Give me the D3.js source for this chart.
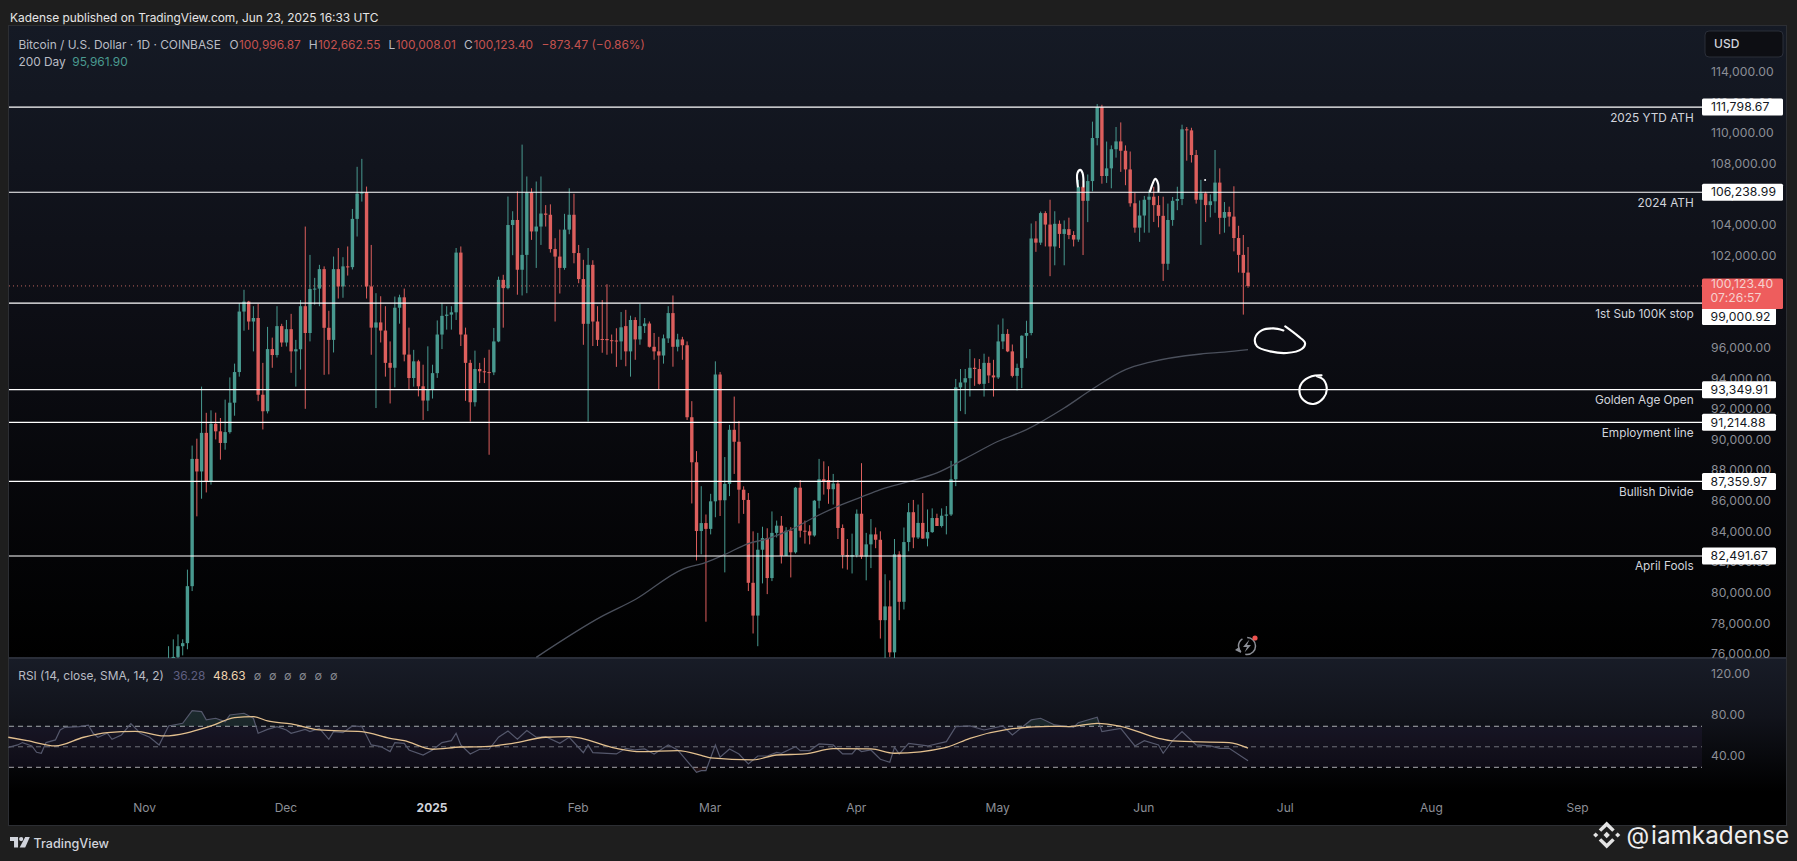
<!DOCTYPE html>
<html>
<head>
<meta charset="utf-8">
<title>BTCUSD</title>
<script src="https://cdn.jsdelivr.net/npm/d3@7"></script>
<style>
  html, body { margin: 0; padding: 0; background: #1e1e1e; overflow: hidden; }
  svg { display: block; }
  text { font-family: Inter, "Liberation Sans", sans-serif; }
  .tick text { font-family: Inter, "Liberation Sans", sans-serif; }
</style>
</head>
<body>
<svg id="chart" width="1797" height="861"></svg>
<script>
// daily candles, first one is 2024-11-06, one value per day up to 2025-06-23
var FIRST_CANDLE = '2024-11-06';

var opens = [
  69350,75600,75900,76600,76800,80520,88830,88010,90530,87370,91120,90630,89870,90580,92500,94500,98450,99100,97800,98030,93020,91940,96000,95610,97500,
  96430,97300,95850,95990,98800,97050,99920,99950,101220,97390,96600,101220,100090,101400,101350,104500,106150,106240,100090,97400,97740,97210,95100,94780,98700,99380,95640,94110,95200,93570,92640,
  93350,94430,96950,98170,98250,98400,102300,96950,95100,92530,94700,94550,94500,94480,96500,100520,99980,104100,104430,101180,102150,106220,103680,104000,104850,104770,102530,102040,101300,103800,104770,
  102270,100570,97650,101500,97800,96660,96660,96580,96560,96500,97500,95850,97900,96630,97500,97670,96150,95850,95580,96700,98350,96150,96630,96250,91550,88610,84120,84640,
  84260,86060,94340,86130,87200,90730,89950,86820,86150,80740,78600,82900,83660,81050,84000,84470,82500,84140,82730,86950,84140,84100,83830,86100,87500,87450,86850,87220,84320,82550,82450,
  82550,85250,82450,83250,83900,83550,78300,79200,76200,82600,79500,83400,85350,83700,84650,83630,84050,84970,84450,85120,85200,87500,93500,93820,94100,94780,94700,93730,95100,94280,
  94150,96500,96990,95850,94250,94770,96870,97050,103220,102950,104880,104130,102700,104180,103520,103830,103450,103150,106600,105680,106970,109780,111800,107300,107800,109050,109560,108950,107730,105520,103930,
  104720,105750,105950,105400,104700,101570,104430,105680,105800,110350,110280,108670,105750,106170,105400,105650,106870,104570,104950,104650,103250,102150,100996.87
];
var highs = [
  76600,77050,77370,77050,81600,89700,90150,93550,91840,92000,91850,91500,92700,94150,95050,99000,99870,99150,98800,98950,95100,97450,96750,98800,97650,
  97900,98300,96600,99200,104000,102150,100650,101500,101400,98500,102040,102600,102000,102700,105150,107900,108420,106610,102800,99650,99450,98800,96500,99430,99550,99950,97400,95950,95300,94980,96180,
  94980,97870,98990,98800,98800,102600,102700,97400,95300,95900,95100,95430,95960,97380,100730,100850,105960,105000,106300,109350,107270,106500,106940,107270,105400,105450,103240,103800,104830,106500,106140,
  102800,101830,102600,101800,98800,99200,100230,96950,97360,98420,98560,98180,98080,98950,98030,97800,97050,96800,96950,98800,99500,97000,96800,96500,92600,89340,87050,85200,
  86550,95200,94500,88950,91050,92900,91300,87040,86600,84100,84000,84400,84300,85400,84800,85100,84370,84370,87000,87450,84800,84500,86150,88830,88670,88350,87850,87450,84550,83600,83950,
  85530,88550,84000,84900,84350,84100,81300,80900,83600,82800,84350,85950,86150,85850,86600,85530,85600,85250,85600,85750,88700,94050,94700,94700,96000,95400,95350,95700,95500,95300,
  97600,98000,97300,96300,95050,96900,97850,104200,104350,104980,105000,105750,105000,104400,104400,104580,103700,107050,107000,107400,110850,112000,111950,109550,109300,110500,110800,109300,108900,106200,105700,
  106000,106400,106600,106000,105950,105500,105930,106600,110650,110500,110450,109000,107050,106270,106100,109000,107800,105600,105300,106630,104050,103450,102662.55
];
var lows = [
  68900,74700,75600,76000,76400,80200,85080,86230,86640,87150,90100,88780,89430,90480,91650,94200,97200,97260,95850,92600,90750,91800,94780,95450,96150,
  96170,94450,93550,94660,92100,96500,98900,98800,94320,94350,95780,99300,99350,100800,101200,103350,105630,99300,95630,92150,96430,94200,92450,93500,97660,95200,93350,93550,92910,91370,91950,
  92770,94120,96000,97270,97270,97900,96200,92620,91270,92250,93780,93780,89100,94300,96450,97400,99900,102130,99550,99500,99650,103130,101300,102800,104000,102300,97800,99630,101180,103500,101600,
  100300,96280,91270,96200,96200,95760,95630,95710,94840,95300,94880,94200,95300,96280,97050,96100,95300,93340,95050,96400,94850,95850,95300,91370,85920,82200,82600,78200,
  83900,85020,85100,81420,86400,87850,84620,85240,80200,77430,76600,80700,80000,80850,83700,82000,82500,81090,82650,83700,83300,83250,83750,85600,86500,85900,85850,83600,81680,81600,81350,
  82400,82300,80900,81700,83000,77100,74500,75900,74600,78300,79000,82800,83000,83600,83600,83120,84000,84450,84350,83900,85100,87050,91950,91750,92900,93600,93680,92900,93780,92900,
  94050,96000,95800,94150,93300,93450,95400,96900,102350,102800,102700,100760,101470,102600,101470,103180,102700,103000,102140,104290,106300,109300,106800,106850,106500,108500,107570,106700,105300,103600,103000,
  103600,103600,104300,103950,100450,101170,104050,105070,105400,108300,108180,105500,102800,104300,104600,104900,103500,103600,104000,102380,101000,98250,100008.01
];
var closes = [
  75600,75900,76600,76800,80520,88830,88010,90530,87370,91120,90630,89870,90580,92500,94500,98450,99100,97800,98030,93020,91940,96000,95610,97500,96430,
  97300,95850,95990,98800,97050,99920,99950,101220,97390,96600,101220,100090,101400,101350,104500,106150,106240,100090,97400,97740,97210,95100,94780,98700,99380,95640,94110,95200,93570,92640,93350,
  94430,96950,98170,98250,98400,102300,96950,95100,92530,94700,94550,94500,94480,96500,100520,99980,104100,104430,101180,102150,106220,103680,104000,104850,104770,102530,102040,101300,103800,104770,102270,
  100570,97650,101500,97800,96600,96600,96580,96560,96500,97420,95850,97900,96630,97500,97670,96150,95850,95580,96700,98350,96150,96630,96250,91550,88610,84120,84640,84260,
  86060,94340,86130,87200,90730,89950,86820,86150,80740,78600,82900,83660,81050,84000,84470,82500,84140,82730,86950,84140,84100,83830,86100,87500,87350,86850,87220,84320,82550,82450,82550,
  85250,82450,83250,83900,83550,78300,79200,76200,82600,79500,83400,85350,83700,84650,83630,84050,84970,84450,85120,85200,87500,93500,93820,94100,94780,94700,93730,95100,94280,94150,
  96500,96990,95850,94250,94770,96870,97050,103220,102950,104880,104130,102700,104180,103520,103830,103450,103150,106600,105680,106970,109780,111800,107300,107800,109050,109560,108950,107730,105520,103930,104720,
  105750,105950,105400,104700,101570,104430,105680,105800,110350,110280,108670,105750,106170,105400,105650,106870,104570,104950,104650,103250,102150,100980,100123.40
];

// 200 day average, read at turning points
var smaDates = ['2025-01-23','2025-02-06','2025-02-13','2025-02-23','2025-02-28','2025-03-04','2025-03-09','2025-03-13','2025-03-18','2025-03-23','2025-03-28','2025-04-02','2025-04-06','2025-04-13','2025-04-18','2025-04-24','2025-05-01','2025-05-07','2025-05-15','2025-05-21','2025-05-28','2025-06-02','2025-06-13','2025-06-18','2025-06-23'];
var smaValues = [75870,78560,79650,81620,82080,82590,83300,83610,84210,85020,85740,86350,86830,87430,87920,88850,89980,90740,92150,93390,94660,95130,95680,95800,95961.9];

// horizontal levels
var levelNames = ['2025 YTD ATH','2024 ATH','1st Sub 100K stop','Golden Age Open','Employment line','Bullish Divide','April Fools'];
var levelValues = [111798.67,106238.99,99000.92,93349.91,91214.88,87359.97,82491.67];
var levelLabelShift = [0,0,13.5,0,0,0,0]; // 99,000.92 tag gets pushed down by the red price tag

var priceTicks = d3.range(76000, 114001, 2000);
var rsiTicks = [40,80,120];
var monthDates = ['2024-11-01','2024-12-01','2025-01-01','2025-02-01','2025-03-01','2025-04-01','2025-05-01','2025-06-01','2025-07-01','2025-08-01','2025-09-01'];
var monthNames = ['Nov','Dec','2025','Feb','Mar','Apr','May','Jun','Jul','Aug','Sep'];

// RSI
var rsiDates = ['2024-10-03','2024-10-05','2024-10-06','2024-10-08','2024-10-09','2024-10-10','2024-10-11','2024-10-13','2024-10-14','2024-10-15','2024-10-18','2024-10-20','2024-10-21','2024-10-22','2024-10-24','2024-10-25','2024-10-27','2024-10-29','2024-10-31','2024-11-02','2024-11-04','2024-11-06','2024-11-09','2024-11-11','2024-11-13','2024-11-14','2024-11-16','2024-11-18','2024-11-19','2024-11-22','2024-11-24','2024-11-25','2024-11-27','2024-11-29','2024-12-01','2024-12-02','2024-12-05','2024-12-06','2024-12-08','2024-12-10','2024-12-11','2024-12-13','2024-12-15','2024-12-17','2024-12-19','2024-12-21','2024-12-23','2024-12-24','2024-12-26','2024-12-27','2024-12-30','2025-01-01','2025-01-03','2025-01-05','2025-01-06','2025-01-07','2025-01-09','2025-01-11','2025-01-13','2025-01-15','2025-01-17','2025-01-19','2025-01-21','2025-01-23','2025-01-25','2025-01-28','2025-01-30','2025-02-02','2025-02-03','2025-02-04','2025-02-09','2025-02-11','2025-02-13','2025-02-15','2025-02-17','2025-02-20','2025-02-22','2025-02-25','2025-02-26','2025-02-27','2025-02-28','2025-03-02','2025-03-03','2025-03-05','2025-03-07','2025-03-09','2025-03-11','2025-03-13','2025-03-15','2025-03-16','2025-03-19','2025-03-20','2025-03-22','2025-03-24','2025-03-27','2025-03-29','2025-03-31','2025-04-01','2025-04-02','2025-04-04','2025-04-06','2025-04-08','2025-04-09','2025-04-10','2025-04-12','2025-04-16','2025-04-20','2025-04-22','2025-04-25','2025-04-28','2025-05-02','2025-05-04','2025-05-08','2025-05-10','2025-05-13','2025-05-17','2025-05-18','2025-05-22','2025-05-23','2025-05-27','2025-05-30','2025-06-01','2025-06-04','2025-06-05','2025-06-07','2025-06-09','2025-06-12','2025-06-15','2025-06-17','2025-06-19','2025-06-23'];
var rsiValues = [49.5,51.8,54.1,50.8,44.6,43.7,54.1,56.7,66.4,69,69.7,71,63.2,59.3,63.2,57.3,61.5,72.6,63.2,59.3,51.8,70.3,72.9,85.3,84.3,76.2,77.8,74.5,81,82.7,77.8,63.2,67,69.7,66.4,63.2,67,64.8,68,57.3,64.8,63.8,70.3,69.7,51.8,50.2,45.3,54.1,53.4,46.9,42,46.9,54.1,56,63.2,51.8,43,47.6,47.6,59.3,65.4,57.3,65.8,59.3,59.9,53.4,59.3,44.3,51.8,44.3,43,48.5,46.9,47.9,43,51.8,46.9,30.7,25.1,26.8,26.8,51.8,39.8,47.9,43,33.3,41,41,44.6,43.7,50.2,46.3,46.3,52.8,51.8,43,43,48.5,45.3,46.9,37.8,34.9,49.5,43,53.4,50.8,55,69.7,70.3,66.4,70.3,61.5,76.2,77.8,71.3,69,73.5,78.8,64.8,68,50.8,56,51.8,43.7,56,64.8,51.8,50.8,48.5,48.5,36.28];

var rsiSmaDates = ['2024-10-03','2024-10-07','2024-10-13','2024-10-19','2024-10-24','2024-10-30','2024-11-05','2024-11-15','2024-11-20','2024-11-24','2024-11-27','2024-12-02','2024-12-08','2024-12-17','2024-12-23','2024-12-26','2025-01-01','2025-01-07','2025-01-12','2025-01-18','2025-01-25','2025-01-30','2025-02-09','2025-02-14','2025-02-22','2025-02-27','2025-03-01','2025-03-10','2025-03-15','2025-03-21','2025-03-27','2025-04-04','2025-04-09','2025-04-20','2025-04-25','2025-05-03','2025-05-12','2025-05-16','2025-05-22','2025-05-27','2025-06-04','2025-06-07','2025-06-19','2025-06-23'];
var rsiSmaValues = [59.3,56,50.8,59.3,63.8,65.1,60.6,70.3,78.4,79.4,75.2,72.3,66.4,64.8,58.3,56,47.6,49.8,50.2,53.4,59.3,59.9,48.5,45.3,46.3,41.7,39.1,37.2,42,43,48.2,47.9,43.7,49.5,58.3,67,70,69.7,72.9,70,58.3,55.7,54,48.63];

// hand drawn marks on the chart, in days after 2024-11-01 and price
var scribbles = [
  { days: [197.9,197.8,198.4,198.9,199.1], prices: [106612,107482,107699,107482,106612] },
  { days: [213.2,213.8,214.3,214.9,215], prices: [106286,106830,107112,106830,106286] },
  { days: [241.5,239.4,236.9,235.5,235.9,238.7,242.2,245.4,246.1,244.7,241.9], prices: [97220,97351,97220,96720,96177,95851,95742,96003,96395,96829,97482] },
  { days: [249.6,247.5,245.4,244.9,245.8,247.9,250,250.7,250,248.6], prices: [94286,94221,93786,93242,92655,92416,92807,93351,94003,94221] }
];

var LEFT = 9, RIGHT = 1786, PLOT_RIGHT = 1702, TOP = 26, PANE_SPLIT = 658, BOTTOM = 825;
var UP = '#48998f', DOWN = '#dd5f5d', MUTED = '#8b8e96', LIGHT = '#d1d4dc';
var DAY = 86400000;

function dayOf(s) {
  return (Date.parse(s) - Date.parse('2024-11-01')) / DAY;
}

var svg = d3.select('#chart');
var defs = svg.append('defs');

var x = d3.scaleLinear().domain([0, 304]).range([145, 1578]);
var y = d3.scaleLinear().domain([76000, 114000]).range([655.4, 73.4]);
var yRsi = d3.scaleLinear().domain([30, 120]).range([767.3, 675]);

function gradient(id, stops) {
  var g = defs.append('linearGradient').attr('id', id).attr('x1', 0).attr('x2', 0).attr('y1', 0).attr('y2', 1);
  stops.forEach(function(s) {
    g.append('stop').attr('offset', s[0]).attr('stop-color', s[1]);
  });
}
gradient('priceBg', [[0, '#151a25'], [0.45, '#0d0e15'], [1, '#000000']]);
gradient('rsiBg', [[0, '#181c27'], [0.35, '#11131b'], [0.8, '#000000'], [1, '#000000']]);

defs.append('clipPath').attr('id', 'priceClip').append('rect')
  .attr('x', LEFT).attr('y', TOP).attr('width', PLOT_RIGHT - LEFT).attr('height', PANE_SPLIT - TOP);
defs.append('clipPath').attr('id', 'overClip').append('rect')
  .attr('x', LEFT).attr('y', 660).attr('width', PLOT_RIGHT - LEFT).attr('height', yRsi(70) - 660);
defs.append('clipPath').attr('id', 'underClip').append('rect')
  .attr('x', LEFT).attr('y', yRsi(30)).attr('width', PLOT_RIGHT - LEFT).attr('height', 40);

function drawPanes() {
  svg.append('rect').attr('x', LEFT).attr('y', TOP).attr('width', RIGHT - LEFT).attr('height', PANE_SPLIT - TOP).attr('fill', 'url(#priceBg)');
  svg.append('rect').attr('x', LEFT).attr('y', PANE_SPLIT).attr('width', RIGHT - LEFT).attr('height', BOTTOM - PANE_SPLIT).attr('fill', 'url(#rsiBg)');
  svg.append('rect').attr('x', LEFT - 0.5).attr('y', TOP - 0.5).attr('width', RIGHT - LEFT + 1).attr('height', BOTTOM - TOP + 1)
    .attr('fill', 'none').attr('stroke', '#2c2e33');
  svg.append('line').attr('x1', LEFT).attr('x2', RIGHT).attr('y1', PANE_SPLIT).attr('y2', PANE_SPLIT)
    .attr('stroke', '#2a2e39').attr('stroke-width', 2);
}

function drawCandles() {
  var start = dayOf(FIRST_CANDLE);
  var candles = closes.map(function(c, i) {
    return { day: start + i, o: opens[i], h: highs[i], l: lows[i], c: c };
  });
  var g = svg.append('g').attr('clip-path', 'url(#priceClip)');

  g.selectAll('.wick').data(candles).enter().append('line')
    .attr('class', 'wick')
    .attr('x1', function(d) { return x(d.day); })
    .attr('x2', function(d) { return x(d.day); })
    .attr('y1', function(d) { return y(d.h); })
    .attr('y2', function(d) { return y(d.l); })
    .attr('stroke', function(d) { return d.c >= d.o ? UP : DOWN; });

  g.selectAll('.body').data(candles).enter().append('rect')
    .attr('class', 'body')
    .attr('x', function(d) { return x(d.day) - 1.7; })
    .attr('width', 3.4)
    .attr('y', function(d) { return y(Math.max(d.o, d.c)); })
    .attr('height', function(d) { return Math.max(1, Math.abs(y(d.o) - y(d.c))); })
    .attr('fill', function(d) { return d.c >= d.o ? UP : DOWN; });

  var smaLine = d3.line()
    .x(function(d) { return x(dayOf(d)); })
    .y(function(d, i) { return y(smaValues[i]); })
    .curve(d3.curveMonotoneX);
  g.append('path').attr('d', smaLine(smaDates))
    .attr('fill', 'none').attr('stroke', '#4b505c').attr('stroke-width', 1.3);
}

function drawLevels() {
  var g = svg.append('g');
  g.selectAll('line').data(levelValues).enter().append('line')
    .attr('x1', LEFT).attr('x2', PLOT_RIGHT)
    .attr('y1', function(d) { return y(d); })
    .attr('y2', function(d) { return y(d); })
    .attr('stroke', '#ffffff').attr('stroke-width', 1.15);

  g.selectAll('text').data(levelNames).enter().append('text')
    .attr('x', 1693.7)
    .attr('y', function(d, i) { return y(levelValues[i]) + 14.5; })
    .attr('text-anchor', 'end')
    .attr('font-size', 11.8)
    .attr('fill', LIGHT)
    .text(function(d) { return d; });

  // current price
  g.append('line')
    .attr('x1', LEFT).attr('x2', PLOT_RIGHT)
    .attr('y1', y(closes[closes.length - 1])).attr('y2', y(closes[closes.length - 1]))
    .attr('stroke', '#e2786e').attr('stroke-opacity', 0.8).attr('stroke-dasharray', '1 3');
}

function drawScribbles() {
  var line = d3.line()
    .x(function(d) { return x(d[0]); })
    .y(function(d) { return y(d[1]); })
    .curve(d3.curveCatmullRom);
  scribbles.forEach(function(s) {
    svg.append('path').attr('d', line(d3.zip(s.days, s.prices)))
      .attr('fill', 'none').attr('stroke', '#ffffff').attr('stroke-width', 2.1).attr('stroke-linecap', 'round');
  });
  svg.append('circle').attr('cx', x(224.9)).attr('cy', y(107047)).attr('r', 1).attr('fill', '#ffffff');
}

function drawRsi() {
  svg.append('rect').attr('x', LEFT).attr('width', PLOT_RIGHT - LEFT)
    .attr('y', yRsi(70)).attr('height', yRsi(30) - yRsi(70))
    .attr('fill', '#7e57c2').attr('fill-opacity', 0.08);

  svg.selectAll('.rsi-band').data([70, 50, 30]).enter().append('line')
    .attr('class', 'rsi-band')
    .attr('x1', LEFT).attr('x2', PLOT_RIGHT)
    .attr('y1', function(d) { return yRsi(d); })
    .attr('y2', function(d) { return yRsi(d); })
    .attr('stroke', function(d) { return d === 50 ? '#6f7078' : '#a9abb0'; })
    .attr('stroke-dasharray', '5 4');

  var rsiArea = d3.area()
    .x(function(d) { return x(dayOf(d)); })
    .y1(function(d, i) { return yRsi(rsiValues[i]); });
  svg.append('path').attr('clip-path', 'url(#overClip)')
    .attr('d', rsiArea.y0(yRsi(70))(rsiDates))
    .attr('fill', '#3d6b60').attr('fill-opacity', 0.25);
  svg.append('path').attr('clip-path', 'url(#underClip)')
    .attr('d', rsiArea.y0(yRsi(30))(rsiDates))
    .attr('fill', '#7a3b3b').attr('fill-opacity', 0.25);

  var rsiLine = d3.line()
    .x(function(d) { return x(dayOf(d)); })
    .y(function(d, i) { return yRsi(rsiValues[i]); });
  svg.append('path').attr('d', rsiLine(rsiDates))
    .attr('fill', 'none').attr('stroke', '#55586c').attr('stroke-width', 1.2);

  var smaLine = d3.line()
    .x(function(d) { return x(dayOf(d)); })
    .y(function(d, i) { return yRsi(rsiSmaValues[i]); })
    .curve(d3.curveMonotoneX);
  svg.append('path').attr('d', smaLine(rsiSmaDates))
    .attr('fill', 'none').attr('stroke', '#e3c08f').attr('stroke-width', 1.3);
}

function drawAxes() {
  var priceAxis = d3.axisRight(y).tickValues(priceTicks).tickSize(0).tickPadding(0).tickFormat(d3.format(',.2f'));
  var gp = svg.append('g').attr('transform', 'translate(1711,-1.6)').call(priceAxis);
  gp.select('.domain').remove();
  gp.selectAll('text').attr('fill', MUTED).attr('font-size', 12.2).attr('letter-spacing', 0.1);

  var rsiAxis = d3.axisRight(yRsi).tickValues(rsiTicks).tickSize(0).tickPadding(0).tickFormat(d3.format('.2f'));
  var gr = svg.append('g').attr('transform', 'translate(1711,-1)').call(rsiAxis);
  gr.select('.domain').remove();
  gr.selectAll('text').attr('fill', MUTED).attr('font-size', 12.2).attr('letter-spacing', 0.1);

  var timeAxis = d3.axisBottom(x).tickValues(monthDates.map(dayOf)).tickSize(0).tickPadding(0)
    .tickFormat(function(d, i) { return monthNames[i]; });
  var gt = svg.append('g').attr('transform', 'translate(-1,803)').call(timeAxis);
  gt.select('.domain').remove();
  gt.selectAll('text')
    .attr('fill', function(d, i) { return monthNames[i] === '2025' ? LIGHT : MUTED; })
    .attr('font-weight', function(d, i) { return monthNames[i] === '2025' ? 700 : 400; })
    .attr('font-size', 12);
}

function priceTag(value, label, centerY, color, textColor, wide) {
  var g = svg.append('g');
  g.append('rect').attr('x', PLOT_RIGHT).attr('y', centerY - 8.5).attr('width', wide ? 81 : 74).attr('height', 17)
    .attr('rx', 1.5).attr('fill', color);
  g.append('text').attr('x', wide ? 1711 : 1710.5).attr('y', centerY + 4.2)
    .attr('font-size', 12.2).attr('letter-spacing', 0.1).attr('fill', textColor).text(label);
}

function drawTags() {
  var fmt = d3.format(',.2f');
  levelValues.forEach(function(v, i) {
    priceTag(v, fmt(v), y(v) + levelLabelShift[i], '#ffffff', '#131722', v >= 100000);
  });

  // red last price tag with the countdown
  var last = closes[closes.length - 1];
  svg.append('rect').attr('x', PLOT_RIGHT).attr('y', 278.5).attr('width', 81).attr('height', 30.5).attr('rx', 1.5).attr('fill', '#ee5d5d');
  svg.append('text').attr('x', 1711).attr('y', y(last) + 2.2).attr('font-size', 12.2).attr('letter-spacing', 0.1).attr('fill', '#f6d0cd').text(fmt(last));
  svg.append('text').attr('x', 1710.5).attr('y', y(last) + 16.2).attr('font-size', 12.2).attr('letter-spacing', 0.1).attr('fill', '#f6d0cd').text('07:26:57');

  svg.append('rect').attr('x', 1705).attr('y', 31).attr('width', 78).attr('height', 26).attr('rx', 4)
    .attr('fill', '#0d0e13').attr('stroke', '#2a2e39');
  svg.append('text').attr('x', 1714).attr('y', 48).attr('font-size', 12).attr('font-weight', 500).attr('fill', LIGHT).text('USD');
}

function label(xPos, yPos, str, color, size, weight) {
  return svg.append('text').attr('x', xPos).attr('y', yPos)
    .attr('font-size', size || 12).attr('font-weight', weight || 400).attr('fill', color).text(str);
}

function drawHeader() {
  label(10, 21.5, 'Kadense published on TradingView.com, Jun 23, 2025 16:33 UTC', '#e6e6e6', 11.9);

  var red = '#c4524f';
  label(18.4, 49, 'Bitcoin / U.S. Dollar · 1D · COINBASE', '#b9bcc4', 11.9);
  label(229.6, 49, 'O', '#b9bcc4', 11.9);
  label(239, 49, '100,996.87', red, 11.9);
  label(308.8, 49, 'H', '#b9bcc4', 11.9);
  label(318, 49, '102,662.55', red, 11.9);
  label(388.4, 49, 'L', '#b9bcc4', 11.9);
  label(395.7, 49, '100,008.01', red, 11.9);
  label(464, 49, 'C', '#b9bcc4', 11.9);
  label(473.4, 49, '100,123.40', red, 11.9);
  label(541.5, 49, '−873.47 (−0.86%)', red, 11.9);

  label(18.4, 66, '200 Day', '#b9bcc4', 11.9);
  label(72.3, 66, '95,961.90', '#4a9a90', 11.9);

  label(18.3, 680, 'RSI (14, close, SMA, 14, 2)', '#b9bcc4', 11.9);
  label(173, 680, '36.28', '#5f5f80', 11.9);
  label(213, 680, '48.63', '#edd2ad', 11.9);
  [256.7, 271.9, 287, 302, 317.4, 333].forEach(function(px) {
    label(px - 3, 680, '∅', '#8a8d94', 11);
  });
}

function drawFooter() {
  // tradingview mark
  var logo = svg.append('g').attr('transform', 'translate(10,837) scale(0.62)').attr('fill', '#d1d4dc');
  logo.append('path').attr('d', 'M0 0h13v17H6.5V6.5H0z');
  logo.append('circle').attr('cx', 18).attr('cy', 3.4).attr('r', 3.4);
  logo.append('path').attr('d', 'M24.5 0H32L24.5 17H15.5z');
  label(33.5, 848, 'TradingView', '#d1d4dc', 12.6, 500);

  // watermark
  var mark = svg.append('g').attr('transform', 'translate(1606.7,835)').attr('fill', '#e4e4e4');
  [[-11, 0, 2.6], [11, 0, 2.6], [0, 0, 3.2]].forEach(function(p) {
    var s = p[2];
    mark.append('path').attr('d', 'M' + p[0] + ' ' + (p[1] - s) + 'L' + (p[0] + s) + ' ' + p[1] + 'L' + p[0] + ' ' + (p[1] + s) + 'L' + (p[0] - s) + ' ' + p[1] + 'Z');
  });
  mark.append('path').attr('d', 'M0 -13.5L8 -5.5L5.5 -3.2L0 -8.5L-5.5 -3.2L-8 -5.5Z');
  mark.append('path').attr('d', 'M0 13.5L8 5.5L5.5 3.2L0 8.5L-5.5 3.2L-8 5.5Z');
  svg.append('text').attr('x', 1626.5).attr('y', 843.5).attr('font-family', '"Noto Sans"').attr('font-size', 23.5).attr('fill', '#eeeeee').text('@');
  svg.append('text').attr('x', 1651).attr('y', 843.5).attr('font-family', '"Noto Sans"').attr('font-size', 24.3).attr('fill', '#eeeeee').text('iamkadense');
}

function drawBolt() {
  var g = svg.append('g').attr('transform', 'translate(1247,646)');
  g.append('circle').attr('r', 8.5).attr('fill', 'none').attr('stroke', '#8b8e96').attr('stroke-width', 1.5).attr('stroke-dasharray', '15 5');
  g.append('path').attr('d', 'M2.5 -6.5L-4 1H0L-2.5 6.5L4 -1H0Z').attr('fill', '#8b8e96');
  g.append('path').attr('d', 'M-12 4L-8 1L-6 7Z').attr('fill', '#8b8e96');
  g.append('circle').attr('cx', 8).attr('cy', -8).attr('r', 2.6).attr('fill', '#ef5350');
}

drawPanes();
drawCandles();
drawLevels();
drawScribbles();
drawRsi();
drawAxes();
drawTags();
drawBolt();
drawHeader();
drawFooter();
</script>
</body>
</html>
